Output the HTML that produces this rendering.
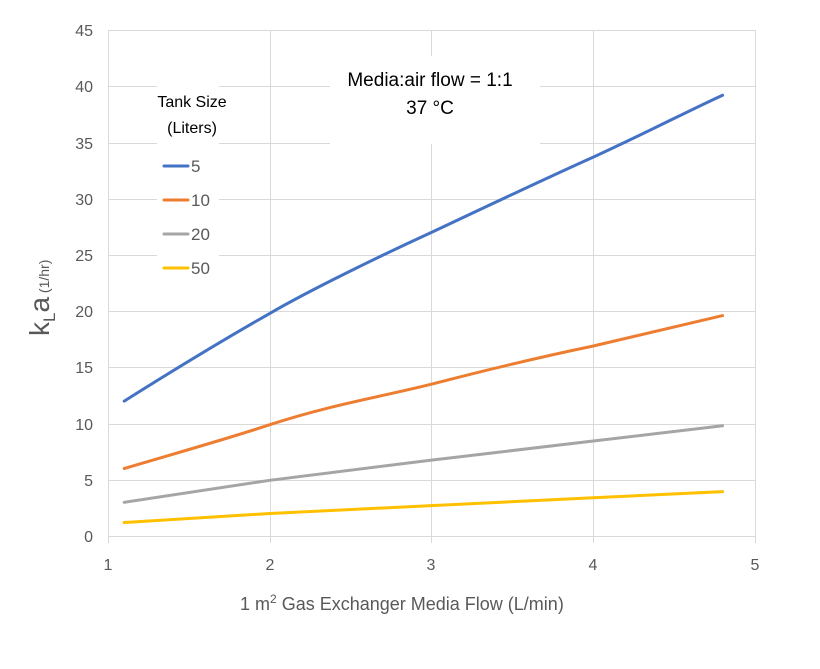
<!DOCTYPE html>
<html><head><style>body{margin:0;background:#fff}svg{display:block}text{font-family:"Liberation Sans",sans-serif;fill:#595959}</style></head>
<body>
<svg width="820" height="669" xmlns="http://www.w3.org/2000/svg">
<g stroke="#d9d9d9" stroke-width="1">
<line x1="108" y1="30.5" x2="755" y2="30.5"/><line x1="108" y1="86.5" x2="755" y2="86.5"/><line x1="108" y1="143.5" x2="755" y2="143.5"/><line x1="108" y1="199.5" x2="755" y2="199.5"/><line x1="108" y1="255.5" x2="755" y2="255.5"/><line x1="108" y1="311.5" x2="755" y2="311.5"/><line x1="108" y1="367.5" x2="755" y2="367.5"/><line x1="108" y1="424.5" x2="755" y2="424.5"/><line x1="108" y1="480.5" x2="755" y2="480.5"/>
<line x1="270.5" y1="30" x2="270.5" y2="543"/><line x1="431.5" y1="30" x2="431.5" y2="543"/><line x1="593.5" y1="30" x2="593.5" y2="543"/><line x1="755.5" y1="30" x2="755.5" y2="543"/>
<line x1="108.5" y1="30" x2="108.5" y2="543"/><line x1="108" y1="536.5" x2="755" y2="536.5"/>
</g>
<rect x="157" y="86" width="62" height="200" fill="#fff"/>
<rect x="330" y="56" width="210" height="88" fill="#fff"/>
<g font-size="16" text-anchor="end">
<text x="93" y="542">0</text><text x="93" y="486">5</text><text x="93" y="430">10</text><text x="93" y="373">15</text><text x="93" y="317">20</text><text x="93" y="261">25</text><text x="93" y="205">30</text><text x="93" y="149">35</text><text x="93" y="92">40</text><text x="93" y="36">45</text>
</g>
<g font-size="16" text-anchor="middle">
<text x="108" y="570">1</text><text x="270" y="570">2</text><text x="431" y="570">3</text><text x="593" y="570">4</text><text x="755" y="570">5</text>
</g>
<text x="240" y="610" font-size="18">1 m<tspan font-size="12" dy="-7">2</tspan><tspan dy="7"> Gas Exchanger Media Flow (L/min)</tspan></text>
<text transform="translate(49,336) rotate(-90)" font-size="28">k<tspan font-size="17" dy="6">L</tspan><tspan dy="-6">a</tspan><tspan font-size="14"> (1/hr)</tspan></text>
<g fill="none" stroke-width="3" stroke-linecap="round">
<path d="M124.2,401.1 C180,366 230,336 269.8,313.4 C310,290 380,256 431.5,232.4 C500,200 560,172 593.3,157.1 C650,131 690,110 722.6,95.2" stroke="#4472c4"/>
<path d="M124.2,468.5 C180,452 230,438 269.8,424.7 C330,405 380,397 431.5,384.2 C490,369 550,355 593.3,346 L722.6,315.6" stroke="#ed7d31"/>
<path d="M124.2,502.3 L269.8,480.3 L431.5,460.1 L593.3,441 L722.6,425.8" stroke="#a5a5a5"/>
<path d="M124.2,522.5 L269.8,513.5 L431.5,505.6 L593.3,497.8 L722.6,491.6" stroke="#ffc000"/>
<line x1="164" y1="166" x2="188" y2="166" stroke="#4472c4"/>
<line x1="164" y1="200" x2="188" y2="200" stroke="#ed7d31"/>
<line x1="164" y1="234" x2="188" y2="234" stroke="#a5a5a5"/>
<line x1="164" y1="268" x2="188" y2="268" stroke="#ffc000"/>
</g>
<g font-size="17">
<text x="191" y="172">5</text><text x="191" y="206">10</text><text x="191" y="240">20</text><text x="191" y="274">50</text>
</g>
<g font-size="16" text-anchor="middle">
<text x="192" y="107" style="fill:#000">Tank Size</text><text x="192" y="133" style="fill:#000">(Liters)</text>
</g>
<g font-size="19" text-anchor="middle">
<text x="430" y="86" style="fill:#000">Media:air flow = 1:1</text>
<text x="430" y="114" style="fill:#000">37 °C</text>
</g>
</svg>
</body></html>
